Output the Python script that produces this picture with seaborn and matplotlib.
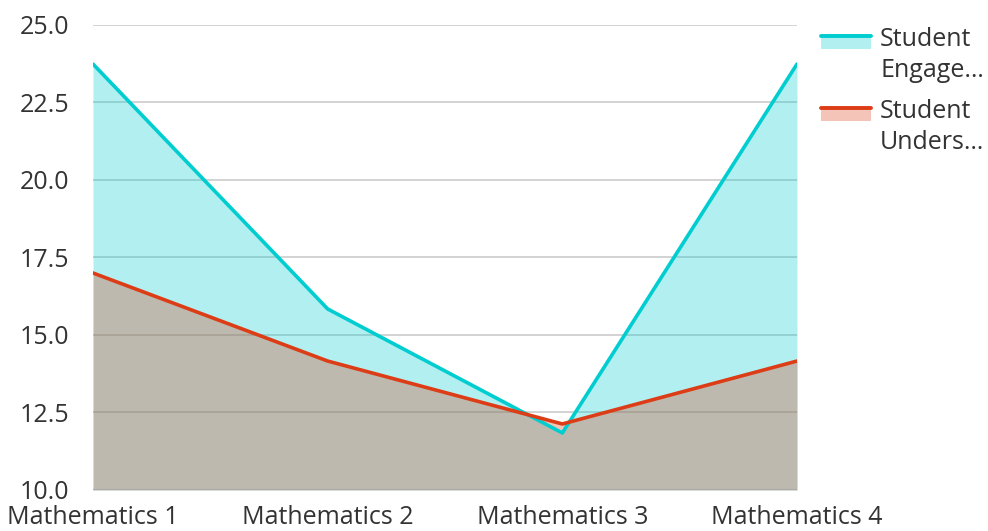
import matplotlib
matplotlib.use("Agg")
import matplotlib.pyplot as plt
import seaborn as sns
import pandas as pd
from matplotlib.patches import Rectangle
from matplotlib.lines import Line2D

categories = ["Mathematics 1", "Mathematics 2", "Mathematics 3", "Mathematics 4"]
engagement = [23.74, 15.84, 11.84, 23.74]
understanding = [17.0, 14.16, 12.13, 14.16]
series_names = ["Student\nEngage\u2026", "Student\nUnders\u2026"]
colors = ["#00CDD0", "#DD3D16"]
yticks = [10.0, 12.5, 15.0, 17.5, 20.0, 22.5, 25.0]

sns.set_theme(style="white")
plt.rcParams['font.family'] = ['Open Sans', 'DejaVu Sans']

df = pd.DataFrame({
    "x": list(range(len(categories))) * 2,
    "value": engagement + understanding,
    "series": [series_names[0]] * 4 + [series_names[1]] * 4,
})

W, H = 988, 531
fig = plt.figure(figsize=(W / 100, H / 100), dpi=100)
ax = fig.add_axes([93 / W, 41 / H, (797 - 93) / W, (490 - 25) / H])

for t in yticks[1:]:
    ax.axhline(t, color="#cccccc", lw=1.2, zorder=0)

xs = list(range(len(categories)))
for vals, c in zip([engagement, understanding], colors):
    ax.fill_between(xs, yticks[0], vals, color=c, alpha=0.3, lw=0, zorder=1)

sns.lineplot(data=df, x="x", y="value", hue="series", palette=colors,
             lw=2.6, ax=ax, legend=False, zorder=3)

ax.axhline(10.0, color="#aaaaaa", lw=2.2, zorder=4)

ax.set_xlim(0, 3)
ax.set_ylim(10, 25)
ax.set_xticks(xs)
ax.set_xticklabels(categories)
ax.set_yticks(yticks)
ax.set_yticklabels([f"{t:.1f}" for t in yticks])
ax.tick_params(axis="both", length=0, labelsize=18, colors="#333333")
ax.tick_params(axis="y", pad=17)
ax.tick_params(axis="x", pad=11)
ax.set_xlabel("")
ax.set_ylabel("")
for s in ax.spines.values():
    s.set_visible(False)

# legend drawn in figure pixel coordinates
def px(x, y):
    return x / W, 1 - y / H

entries = [(series_names[0], colors[0], 34), (series_names[1], colors[1], 106)]
for name, c, ytop in entries:
    x0, y0 = px(821, ytop + 15)
    fig.patches.append(Rectangle((x0, y0), 50 / W, 15 / H, transform=fig.transFigure,
                                 facecolor=c, alpha=0.3, edgecolor="none"))
    lx0, ly = px(821, ytop + 1.5)
    lx1, _ = px(871, ytop + 1.5)
    fig.lines.append(Line2D([lx0, lx1], [ly, ly], transform=fig.transFigure,
                            color=c, lw=2.8))
    tx, ty = px(880, ytop - 7)
    fig.text(tx, ty, name, ha="left", va="top", fontsize=18, color="#333333",
             linespacing=1.3)

fig.savefig("out.png", dpi=100)
